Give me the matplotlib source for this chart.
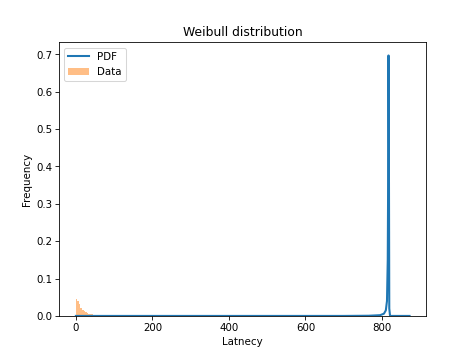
import matplotlib
matplotlib.use("Agg")
import matplotlib.pyplot as plt

# PDF curve
pdf_x = [0, 100, 300, 500, 700, 765, 795, 805, 810, 813, 815, 816, 817, 818, 819, 821, 835, 872]
pdf_y = [0, 0, 0, 0, 0, 0.0005, 0.002, 0.006, 0.015, 0.04, 0.15, 0.35, 0.697, 0.45, 0.02, 0, 0, 0]

# Histogram of data (bin left edges, width, density heights)
bin_left = [0, 4, 8, 12, 16, 20, 24, 28, 32, 36, 40, 44, 48, 52, 56, 60]
bin_width = 4
bin_height = [0.045, 0.040, 0.032, 0.022, 0.016, 0.012, 0.010, 0.008, 0.006, 0.005,
              0.004, 0.003, 0.002, 0.0015, 0.001, 0.0008]

fig, ax = plt.subplots(figsize=(6.4, 4.8), dpi=74)
ax.plot(pdf_x, pdf_y, color="C0", lw=2, label="PDF")
ax.bar(bin_left, bin_height, width=bin_width, align="edge", color="C1", alpha=0.5, label="Data")
ax.set_xlim(-43.6, 915.6)
ax.set_title("Weibull distribution")
ax.set_xlabel("Latnecy")
ax.set_ylabel("Frequency")
ax.legend(loc="upper left")
fig.savefig("out.png", dpi=74)
